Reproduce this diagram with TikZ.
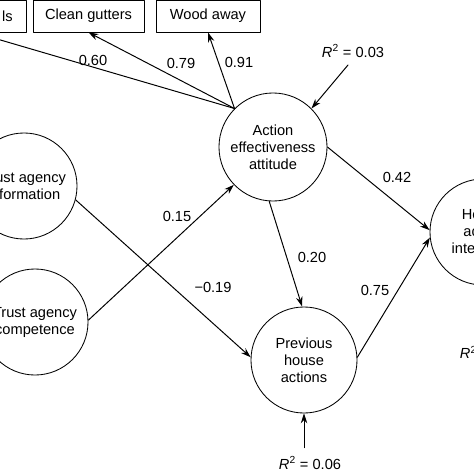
\documentclass[tikz,border=0pt]{standalone}
\usepackage{fontspec}
\setmainfont{Liberation Sans}
\usetikzlibrary{arrows.meta}

\begin{document}
\begin{tikzpicture}[
    x=0.025cm,y=-0.025cm,
    >={Stealth[length=7pt,width=4.6pt]},
    line cap=round,
    line join=round,
    every node/.style={font=\fontsize{10.4}{12.1}\selectfont},
    latent/.style={draw,circle,line width=0.6pt,minimum size=2.65cm,inner sep=0pt,align=center},
    indicator/.style={draw,rectangle,line width=0.6pt,minimum height=0.8cm,inner sep=2pt},
    link/.style={->,line width=0.7pt},
    coef/.style={inner sep=1pt},
]
\useasboundingbox (0,0) rectangle (474,474);
\clip (0,0) rectangle (474,474);
% latent variables
\node[latent,minimum size=2.7cm] (act) at (273,147) {Action\\effectiveness\\attitude};
\node[latent] (info) at (24,186) {Trust agency\\information};
\node[latent] (comp) at (35,322) {Trust agency\\competence};
\node[latent] (prev) at (304,360) {Previous\\house\\actions};
\node[latent] (int) at (483,232) {House\\action\\intentions};
% indicators
\node[indicator,anchor=east,text width=1.9cm,inner xsep=0.35cm,align=right] (ls) at (27,16) {ls};
\node[indicator,minimum width=2.775cm] (cg) at (88.5,16) {Clean gutters};
\node[indicator,minimum width=2.6cm] (wa) at (208,16) {Wood away};
% R squared
\node (r1) at (353,51) {\textit{R}\textsuperscript{2} = 0.03};
\coordinate (r1e) at (348,65);
\node (r2) at (310,463) {\textit{R}\textsuperscript{2} = 0.06};
\node[anchor=west] (r3) at (455,352) {\textit{R}\textsuperscript{2}};
% loadings
\draw[link] (act.135) -- (ls.south);
\draw[link] (act.135) -- (cg.south);
\draw[link] (act.135) -- (wa.south);
\node[coef] (l1) at (93,60) {0.60};
\node[coef] (l2) at (181,63) {0.79};
\node[coef] (l3) at (239,62) {0.91};
% structural paths
\draw[link] (r1e) -- (act.45);
\draw[link] (info.-15) -- (prev.177);
\draw[link] (comp.2) -- (act.224);
\draw[link] (act.266) -- (prev.92);
\draw[link] (act.0) -- (int.178);
\draw[link] (prev.3) -- (int.186);
\draw[link,shorten <=3pt] (prev.south |- r2.north) -- (prev.south);
\node[coef] (p1) at (177,216) {0.15};
\node[coef] (p2) at (213,287) {−0.19};
\node[coef] (p3) at (312,257) {0.20};
\node[coef] (p4) at (397,177) {0.42};
\node[coef] (p5) at (375,290) {0.75};
\end{tikzpicture}
\end{document}
